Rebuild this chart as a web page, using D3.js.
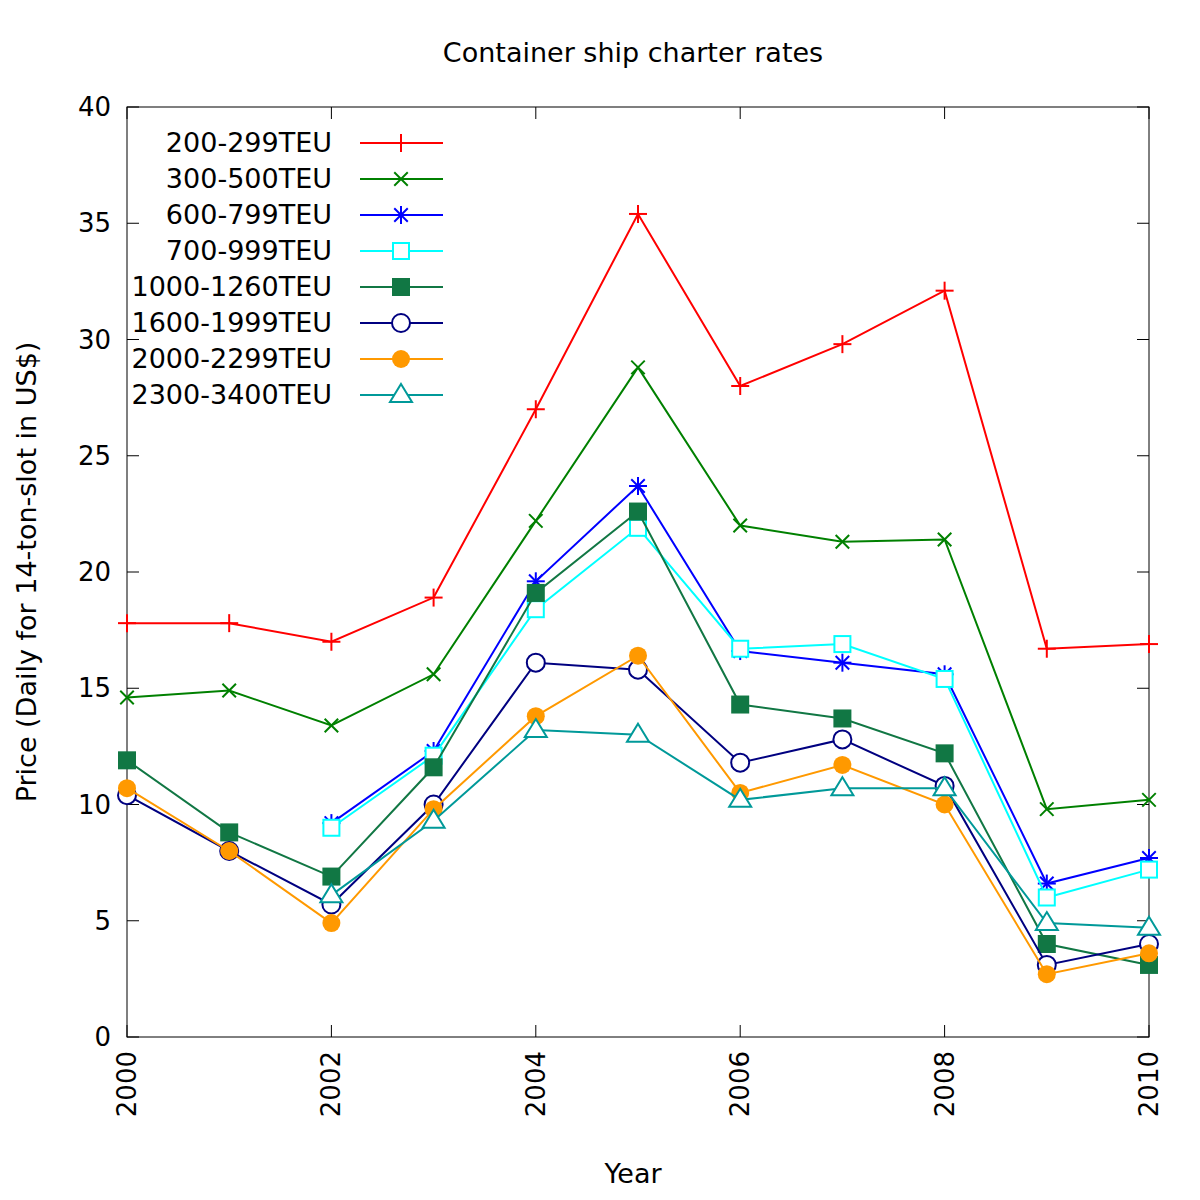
<!DOCTYPE html>
<html><head><meta charset="utf-8">
<script src="https://cdn.jsdelivr.net/npm/d3@7"></script>
<style>body{margin:0;background:#fff}text{font-family:"DejaVu Sans",sans-serif}</style>
</head><body>
<script>
var years = [2000,2001,2002,2003,2004,2005,2006,2007,2008,2009,2010];
var seriesNames = ["200-299TEU","300-500TEU","600-799TEU","700-999TEU","1000-1260TEU","1600-1999TEU","2000-2299TEU","2300-3400TEU"];
var s200 = [17.8,17.8,17.0,18.9,27.0,35.4,28.0,29.8,32.1,16.7,16.9];
var s300 = [14.6,14.9,13.4,15.6,22.2,28.8,22.0,21.3,21.4,9.8,10.2];
var s600 = [null,null,9.2,12.3,19.6,23.7,16.6,16.1,15.6,6.6,7.7];
var s700 = [null,null,9.0,12.1,18.4,21.9,16.7,16.9,15.4,6.0,7.2];
var s1000 = [11.9,8.8,6.9,11.6,19.1,22.6,14.3,13.7,12.2,4.0,3.1];
var s1600 = [10.4,8.0,5.7,10.0,16.1,15.8,11.8,12.8,10.8,3.1,4.0];
var s2000 = [10.7,8.0,4.9,9.8,13.8,16.4,10.5,11.7,10.0,2.7,3.6];
var s2300 = [null,null,6.1,9.3,13.2,13.0,10.2,10.7,10.7,4.9,4.7];
var allSeries = [s200,s300,s600,s700,s1000,s1600,s2000,s2300];
var colors = ["#ff0000","#008000","#0000ff","#00ffff","#117744","#000080","#ff9900","#009999"];
var markers = ["plus","cross","star","square","squareF","circle","circleF","triangle"];
var yTicks = [0,5,10,15,20,25,30,35,40];
var xTicks = [2000,2002,2004,2006,2008,2010];

var W = 1200, H = 1200, L = 127, R = 1149, T = 107, B = 1037;
var svg = d3.select("body").append("svg").attr("width", W).attr("height", H);
var x = d3.scaleLinear().domain([2000,2010]).range([L,R]);
var y = d3.scaleLinear().domain([0,40]).range([B,T]);

svg.append("text").attr("x", 633).attr("y", 62).attr("text-anchor","middle").attr("font-size", 27).text("Container ship charter rates");

// ticks (inside, mirrored)
yTicks.forEach(function(v){
  svg.append("line").attr("x1",L).attr("x2",L+12).attr("y1",y(v)).attr("y2",y(v)).attr("stroke","#000");
  svg.append("line").attr("x1",R).attr("x2",R-12).attr("y1",y(v)).attr("y2",y(v)).attr("stroke","#000");
  svg.append("text").attr("x",L-16).attr("y",y(v)+9).attr("text-anchor","end").attr("font-size",26).text(v);
});
xTicks.forEach(function(v){
  svg.append("line").attr("x1",x(v)).attr("x2",x(v)).attr("y1",B).attr("y2",B-12).attr("stroke","#000");
  svg.append("line").attr("x1",x(v)).attr("x2",x(v)).attr("y1",T).attr("y2",T+12).attr("stroke","#000");
  svg.append("text").attr("transform","translate("+(x(v)+9)+","+(B+14)+") rotate(-90)").attr("text-anchor","end").attr("font-size",26).text(v);
});
svg.append("rect").attr("x",L).attr("y",T).attr("width",R-L).attr("height",B-T).attr("fill","none").attr("stroke","#000");
svg.append("text").attr("x",633).attr("y",1183).attr("text-anchor","middle").attr("font-size",27).text("Year");
svg.append("text").attr("transform","translate(36,"+((T+B)/2)+") rotate(-90)").attr("text-anchor","middle").attr("font-size",27).text("Price (Daily for 14-ton-slot in US$)");

function marker(g, type, cx, cy, c) {
  var r = 9;
  if (type == "plus" || type == "star") {
    g.append("line").attr("x1",cx-r).attr("x2",cx+r).attr("y1",cy).attr("y2",cy).attr("stroke",c).attr("stroke-width",2);
    g.append("line").attr("x1",cx).attr("x2",cx).attr("y1",cy-r).attr("y2",cy+r).attr("stroke",c).attr("stroke-width",2);
  }
  if (type == "cross" || type == "star") {
    var d = r*0.75;
    g.append("line").attr("x1",cx-d).attr("x2",cx+d).attr("y1",cy-d).attr("y2",cy+d).attr("stroke",c).attr("stroke-width",2);
    g.append("line").attr("x1",cx-d).attr("x2",cx+d).attr("y1",cy+d).attr("y2",cy-d).attr("stroke",c).attr("stroke-width",2);
  }
  if (type == "square") g.append("rect").attr("x",cx-8).attr("y",cy-8).attr("width",16).attr("height",16).attr("fill","#fff").attr("stroke",c).attr("stroke-width",2);
  if (type == "squareF") g.append("rect").attr("x",cx-9).attr("y",cy-9).attr("width",18).attr("height",18).attr("fill",c);
  if (type == "circle") g.append("circle").attr("cx",cx).attr("cy",cy).attr("r",9).attr("fill","#fff").attr("stroke",c).attr("stroke-width",2);
  if (type == "circleF") g.append("circle").attr("cx",cx).attr("cy",cy).attr("r",9).attr("fill",c);
  if (type == "triangle") g.append("path").attr("d","M"+cx+","+(cy-11)+"L"+(cx+11)+","+(cy+7)+"L"+(cx-11)+","+(cy+7)+"Z").attr("fill","#fff").attr("stroke",c).attr("stroke-width",2);
}

var line = d3.line().defined(function(d){return d != null;}).x(function(d,i){return x(years[i]);}).y(function(d){return y(d);});
allSeries.forEach(function(s, k){
  var g = svg.append("g");
  g.append("path").attr("d", line(s)).attr("fill","none").attr("stroke",colors[k]).attr("stroke-width",2);
  s.forEach(function(v,i){ if (v != null) marker(g, markers[k], x(years[i]), y(v), colors[k]); });
  var ly = 143 + 36*k;
  g.append("text").attr("x",332).attr("y",ly+9).attr("text-anchor","end").attr("font-size",27).text(seriesNames[k]);
  g.append("line").attr("x1",360).attr("x2",443).attr("y1",ly).attr("y2",ly).attr("stroke",colors[k]).attr("stroke-width",2);
  marker(g, markers[k], 401, ly, colors[k]);
});
</script>
</body></html>
